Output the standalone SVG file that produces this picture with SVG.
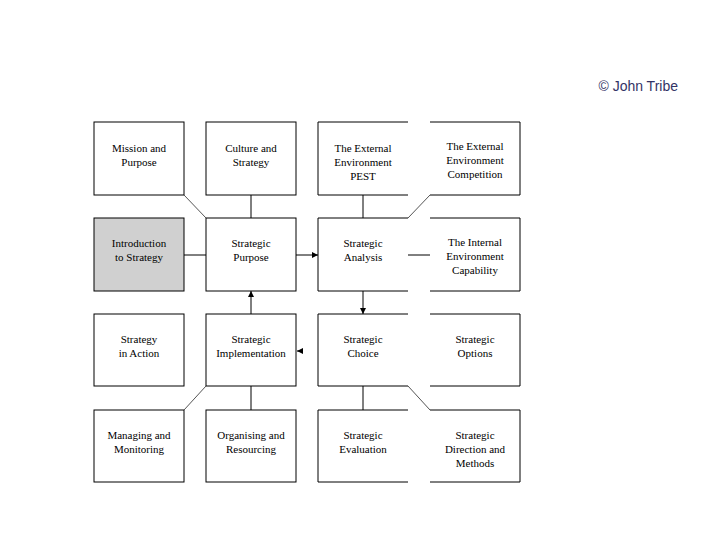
<svg xmlns="http://www.w3.org/2000/svg" width="720" height="540" viewBox="0 0 720 540">
<style>
.b{fill:#fff;stroke:#000;stroke-width:1}
.g{fill:#d0d0d0;stroke:#000;stroke-width:1}
.t{font-family:"Liberation Serif",serif;font-size:11px;text-anchor:middle;fill:#000}
.c line{stroke:#000;stroke-width:1}
.d{stroke:#555 !important}
</style>
<defs><marker id="a" markerWidth="6" markerHeight="6" refX="6" refY="3" orient="auto" markerUnits="userSpaceOnUse"><path d="M0,0L6,3L0,6z" fill="#000"/></marker></defs>
<rect width="720" height="540" fill="#fff"/>
<text x="678" y="91" font-family="Liberation Sans,sans-serif" font-size="14" text-anchor="end" fill="#333366">© John Tribe</text>
<g id="n1"><rect class="b" x="94" y="122" width="90" height="73"/><text class="t" x="139" y="152">Mission and</text><text class="t" x="139" y="166">Purpose</text></g>
<g id="n2"><rect class="b" x="206" y="122" width="90" height="73"/><text class="t" x="251" y="152">Culture and</text><text class="t" x="251" y="166">Strategy</text></g>
<g id="n3"><path class="b" d="M408,122H318V195H408"/><text class="t" x="363" y="152">The External</text><text class="t" x="363" y="166">Environment</text><text class="t" x="363" y="180">PEST</text></g>
<g id="n4"><path class="b" d="M430,122H520V195H430"/><text class="t" x="475" y="150">The External</text><text class="t" x="475" y="164">Environment</text><text class="t" x="475" y="178">Competition</text></g>
<g id="n5"><rect class="g" x="94" y="218" width="90" height="73"/><text class="t" x="139" y="247">Introduction</text><text class="t" x="139" y="261">to Strategy</text></g>
<g id="n6"><rect class="b" x="206" y="218" width="90" height="73"/><text class="t" x="251" y="247">Strategic</text><text class="t" x="251" y="261">Purpose</text></g>
<g id="n7"><path class="b" d="M408,218H318V291H408"/><text class="t" x="363" y="247">Strategic</text><text class="t" x="363" y="261">Analysis</text></g>
<g id="n8"><path class="b" d="M430,218H520V291H430"/><text class="t" x="475" y="246">The Internal</text><text class="t" x="475" y="260">Environment</text><text class="t" x="475" y="274">Capability</text></g>
<g id="n9"><rect class="b" x="94" y="314" width="90" height="72"/><text class="t" x="139" y="343">Strategy</text><text class="t" x="139" y="357">in Action</text></g>
<g id="n10"><rect class="b" x="206" y="314" width="90" height="72"/><text class="t" x="251" y="343">Strategic</text><text class="t" x="251" y="357">Implementation</text></g>
<g id="n11"><path class="b" d="M408,314H318V386H408"/><text class="t" x="363" y="343">Strategic</text><text class="t" x="363" y="357">Choice</text></g>
<g id="n12"><path class="b" d="M430,314H520V386H430"/><text class="t" x="475" y="343">Strategic</text><text class="t" x="475" y="357">Options</text></g>
<g id="n13"><rect class="b" x="94" y="410" width="90" height="72"/><text class="t" x="139" y="439">Managing and</text><text class="t" x="139" y="453">Monitoring</text></g>
<g id="n14"><rect class="b" x="206" y="410" width="90" height="72"/><text class="t" x="251" y="439">Organising and</text><text class="t" x="251" y="453">Resourcing</text></g>
<g id="n15"><path class="b" d="M408,410H318V482H408"/><text class="t" x="363" y="439">Strategic</text><text class="t" x="363" y="453">Evaluation</text></g>
<g id="n16"><path class="b" d="M430,410H520V482H430"/><text class="t" x="475" y="439">Strategic</text><text class="t" x="475" y="453">Direction and</text><text class="t" x="475" y="467">Methods</text></g>
<g class="c" id="connectors">
<line class="d" x1="184" y1="195" x2="206" y2="218"/>
<line x1="251" y1="195" x2="251" y2="218"/>
<line x1="363" y1="195" x2="363" y2="218"/>
<line class="d" x1="430" y1="195" x2="408" y2="218"/>
<line x1="184" y1="255" x2="206" y2="255"/>
<line x1="296" y1="255" x2="318" y2="255" marker-end="url(#a)"/>
<line x1="408" y1="255" x2="430" y2="255"/>
<line x1="363" y1="291" x2="363" y2="314" marker-end="url(#a)"/>
<line x1="251" y1="314" x2="251" y2="291" marker-end="url(#a)"/>
<line x1="303" y1="351" x2="297" y2="351" marker-end="url(#a)"/>
<line class="d" x1="206" y1="386" x2="184" y2="410"/>
<line x1="251" y1="386" x2="251" y2="410"/>
<line x1="363" y1="386" x2="363" y2="410"/>
<line class="d" x1="408" y1="386" x2="430" y2="410"/>
</g>
</svg>
